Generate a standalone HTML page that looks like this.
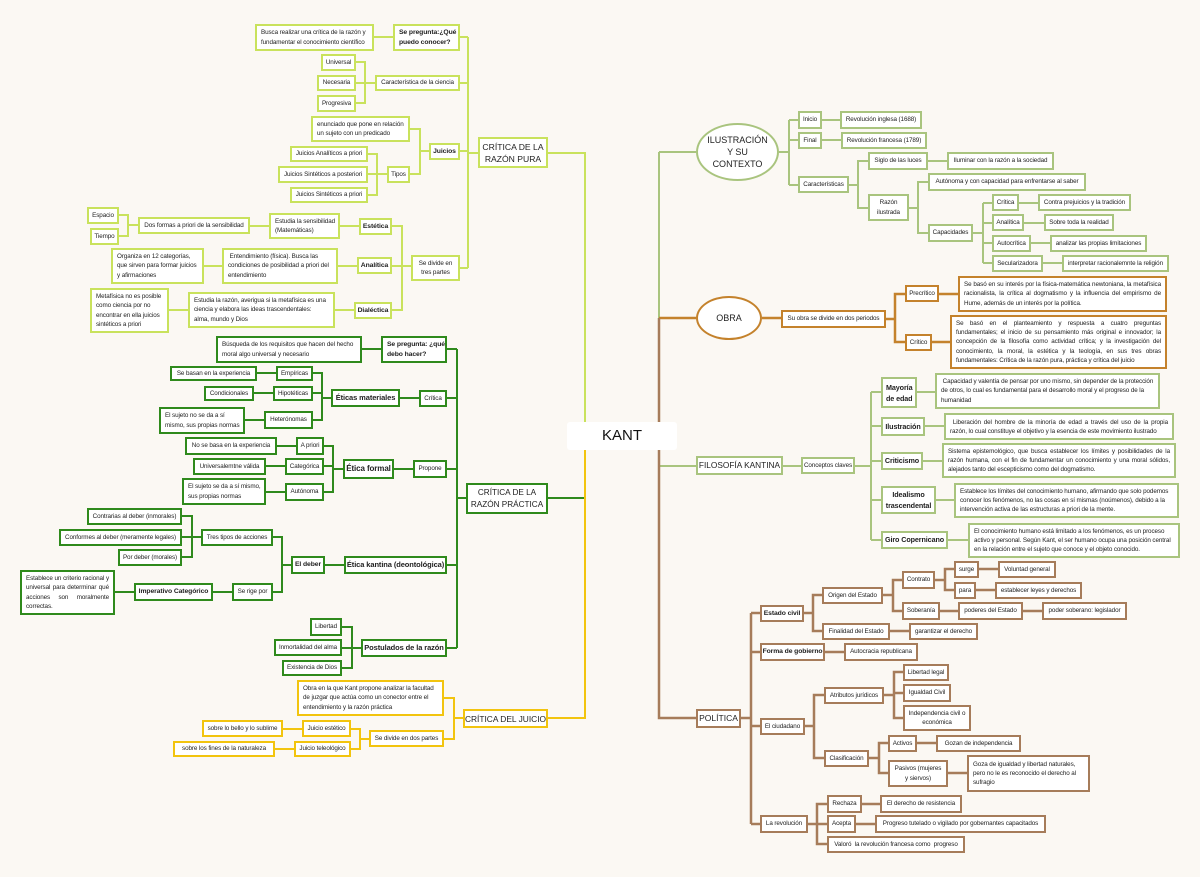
<!DOCTYPE html>
<html><head><meta charset="utf-8"><style>
body{margin:0;background:#fbf8f3;}
#c{position:relative;width:1200px;height:877px;overflow:hidden;background:#fbf8f3;font-family:"Liberation Sans",sans-serif;}
svg{position:absolute;left:0;top:0}
.b{position:absolute;box-sizing:border-box;border:2px solid;background:#fff;display:flex;align-items:center;justify-content:center;text-align:center;font-size:6.3px;letter-spacing:-0.1px;line-height:9.3px;padding:1px 2px;color:#222;white-space:nowrap;}
.l{justify-content:flex-start;text-align:left;padding:1px 4px;white-space:normal}
.n{white-space:nowrap}
.w{white-space:normal}
.l>span{width:100%}
.j>span{text-align:justify;text-align-last:left;width:100%}
.B{font-weight:bold;font-size:6.8px}
.T{font-size:8.6px;line-height:12px;border-width:2.5px;white-space:normal;letter-spacing:0}
.g1{border-color:#c9e25c}.g2{border-color:#2f8a1c}.y{border-color:#f2c40e}.s{border-color:#a9c47e}.o{border-color:#c4822c}.br{border-color:#a67c5a}
.e{border-radius:50%;font-size:9px;line-height:12px;background:#fff;letter-spacing:0}
</style></head><body><div id="c">
<svg width="1200" height="877" fill="none" stroke-linejoin="miter">
<g stroke="#c9e25c" stroke-width="2">
<path d="M548 153H585V422"/><path d="M478 153H468M468 37V268M460 37H468M460 83H468M460 151H468M460 268H468"/>
<path d="M374 37H393"/><path d="M356 62H365V103H356M356 83H375"/>
<path d="M410 129H420V174H410M420 151H429"/><path d="M368 154H377V195H368M368 174H387"/>
<path d="M119 215H128V236H119M128 225H138"/><path d="M250 226H269M340 226H359"/>
<path d="M204 266H222M338 266H357"/><path d="M169 310H188M335 310H354"/>
<path d="M392 226H402V310H392M392 266H411"/>
</g>
<g stroke="#2f8a1c" stroke-width="2">
<path d="M548 498H585"/><path d="M466 498H457M457 349V648M447 349H457M447 398H457M447 469H457M447 565H457M447 648H457"/>
<path d="M362 349H381"/><path d="M257 373H276M254 393H273M245 420H264"/>
<path d="M313 373H322V420H313M313 393H322M322 398H331M400 398H419"/>
<path d="M277 446H296M266 466H285M266 492H285"/>
<path d="M324 446H333V492H324M324 466H333M333 469H343M394 469H413"/>
<path d="M182 516H192V557H182M182 537H201"/><path d="M273 537H282V592H273M282 565H291M325 565H344"/>
<path d="M115 592H134M213 592H232"/><path d="M342 627H352V668H342M342 648H361"/>
</g>
<g stroke="#f2c40e" stroke-width="2">
<path d="M548 718H585V450"/><path d="M463 718H454M444 698H454V739H444"/>
<path d="M351 729H360V749H351M360 739H369"/><path d="M283 729H302M275 749H294"/>
</g>
<g stroke="#a9c47e" stroke-width="2">
<path d="M659 152V318M659 152H696M659 466H696"/>
<path d="M779 152H789M789 120V185M789 120H798M789 140H798M789 185H798"/>
<path d="M822 120H840M822 140H841"/>
<path d="M849 185H858V161H868M858 185V208H868M928 161H947"/>
<path d="M909 208H918V182H928M918 208V233H928"/>
<path d="M973 233H983M983 203V263M983 203H992M983 223H992M983 243H992M983 263H992"/>
<path d="M1019 203H1038M1024 223H1044M1031 243H1050M1043 263H1062"/>
<path d="M783 466H801M855 466H871M871 392V540M871 392H881M871 426H881M871 461H881M871 500H881M871 540H881"/>
<path d="M917 392H935M925 426H944M923 461H942M936 500H954M948 540H968"/>
</g>
<g stroke="#c4822c" stroke-width="2.5">
<path d="M659 318H696M762 318H781M886 319H895V294H905M895 319V342H905M939 294H958M932 342H950"/>
</g>
<g stroke="#a67c5a" stroke-width="2.5">
<path d="M659 318V718H696"/>
<path d="M741 718H751M751 613V824M751 613H760M751 652H760M751 726H760M751 824H760"/>
<path d="M804 613H813V595H822M813 613V631H822"/>
<path d="M883 595H893V580H902M893 595V611H902M935 580H945V569H954M945 580V590H954"/>
<path d="M979 569H998M976 590H995M940 611H958M1023 611H1042M890 631H909M825 652H844"/>
<path d="M805 726H814V695H824M814 726V758H824M884 695H894V672H903M894 693H903M894 695V718H903"/>
<path d="M869 758H879V743H888M879 758V773H888M917 743H936M948 773H967"/>
<path d="M808 824H817V804H827M817 824H827M817 824V844H827M862 804H880M856 824H875"/>
</g>
</svg>

<div class="b" style="left:567px;top:422px;width:110px;height:28px;border:none;border-radius:3px;font-size:15px;color:#111;letter-spacing:0">KANT</div>

<!-- CRP -->
<div class="b g1 T" style="left:478px;top:137px;width:70px;height:31px">CRÍTICA DE LA<br>RAZÓN PURA</div>
<div class="b g1 l n" style="left:255px;top:24px;width:119px;height:27px"><span>Busca realizar una crítica de la razón y<br>fundamentar el conocimiento científico</span></div>
<div class="b g1 l B n" style="left:393px;top:24px;width:67px;height:27px"><span>Se pregunta:¿Qué<br>puedo conocer?</span></div>
<div class="b g1" style="left:321px;top:54px;width:35px;height:17px">Universal</div>
<div class="b g1" style="left:317px;top:75px;width:39px;height:16px">Necesaria</div>
<div class="b g1" style="left:317px;top:95px;width:39px;height:17px">Progresiva</div>
<div class="b g1" style="left:375px;top:75px;width:85px;height:16px">Característica de la ciencia</div>
<div class="b g1 l n" style="left:311px;top:116px;width:99px;height:26px"><span>enunciado que pone en relación<br>un sujeto con un predicado</span></div>
<div class="b g1 B" style="left:429px;top:143px;width:31px;height:17px">Juicios</div>
<div class="b g1" style="left:290px;top:146px;width:78px;height:16px">Juicios Analíticos a priori</div>
<div class="b g1" style="left:278px;top:166px;width:90px;height:17px">Juicios Sintéticos a posteriori</div>
<div class="b g1" style="left:290px;top:187px;width:78px;height:16px">Juicios Sintéticos a priori</div>
<div class="b g1" style="left:387px;top:166px;width:23px;height:17px">Tipos</div>
<div class="b g1" style="left:87px;top:207px;width:32px;height:17px">Espacio</div>
<div class="b g1" style="left:90px;top:228px;width:29px;height:17px">Tiempo</div>
<div class="b g1" style="left:138px;top:217px;width:112px;height:17px">Dos formas a priori de la sensibilidad</div>
<div class="b g1 l n" style="left:269px;top:213px;width:71px;height:26px"><span>Estudia la sensibilidad<br>(Matemáticas)</span></div>
<div class="b g1 B" style="left:359px;top:218px;width:33px;height:17px">Estética</div>
<div class="b g1 l n" style="left:111px;top:248px;width:93px;height:36px"><span>Organiza en 12 categorías,<br>que sirven para formar juicios<br>y afirmaciones</span></div>
<div class="b g1 l n" style="left:222px;top:248px;width:116px;height:36px"><span>&nbsp;Entendimiento (física). Busca las<br>condiciones de posibilidad a priori del<br>entendimiento</span></div>
<div class="b g1 B" style="left:357px;top:257px;width:35px;height:17px">Analítica</div>
<div class="b g1 w" style="left:411px;top:255px;width:49px;height:26px">Se divide en<br>tres partes</div>
<div class="b g1 l n" style="left:90px;top:288px;width:79px;height:45px"><span>Metafísica no es posible<br>como ciencia por no<br>encontrar en ella juicios<br>sintéticos a priori</span></div>
<div class="b g1 l n" style="left:188px;top:292px;width:147px;height:36px"><span>Estudia la razón, averigua si la metafísica es una<br>ciencia y elabora las ideas trascendentales:<br>alma, mundo y Dios</span></div>
<div class="b g1 B" style="left:354px;top:302px;width:38px;height:17px">Dialéctica</div>

<!-- CRPr -->
<div class="b g2 T" style="left:466px;top:483px;width:82px;height:31px;white-space:nowrap;font-size:8.2px">CRÍTICA DE LA<br>RAZÓN PRÁCTICA</div>
<div class="b g2 l n" style="left:216px;top:336px;width:146px;height:27px"><span>Búsqueda de los requisitos que hacen del hecho<br>moral algo universal y necesario</span></div>
<div class="b g2 l B n" style="left:381px;top:336px;width:66px;height:27px"><span>Se pregunta: ¿qué<br>debo hacer?</span></div>
<div class="b g2" style="left:170px;top:366px;width:87px;height:15px">Se basan en la experiencia</div>
<div class="b g2" style="left:276px;top:366px;width:37px;height:15px">Empíricas</div>
<div class="b g2" style="left:204px;top:386px;width:50px;height:15px">Condicionales</div>
<div class="b g2" style="left:273px;top:386px;width:40px;height:15px">Hipotéticas</div>
<div class="b g2 l n" style="left:159px;top:407px;width:86px;height:27px"><span>El sujeto no se da a sí<br>mismo, sus propias normas</span></div>
<div class="b g2" style="left:264px;top:411px;width:49px;height:18px">Heterónomas</div>
<div class="b g2 B" style="left:331px;top:389px;width:69px;height:18px;font-size:7.5px">Éticas materiales</div>
<div class="b g2" style="left:419px;top:390px;width:28px;height:17px">Crítica</div>
<div class="b g2" style="left:185px;top:437px;width:92px;height:18px">No se basa en la experiencia</div>
<div class="b g2" style="left:296px;top:437px;width:28px;height:18px">A priori</div>
<div class="b g2" style="left:193px;top:458px;width:73px;height:17px">Universalemtne válida</div>
<div class="b g2" style="left:285px;top:458px;width:39px;height:17px">Categórica</div>
<div class="b g2 l n" style="left:182px;top:478px;width:84px;height:27px"><span>El sujeto se da a sí mismo,<br>sus propias normas</span></div>
<div class="b g2" style="left:285px;top:483px;width:39px;height:18px">Autónoma</div>
<div class="b g2 B" style="left:343px;top:459px;width:51px;height:20px;font-size:8px">Ética formal</div>
<div class="b g2" style="left:413px;top:460px;width:34px;height:18px">Propone</div>
<div class="b g2" style="left:87px;top:508px;width:95px;height:17px">Contrarias al deber (inmorales)</div>
<div class="b g2" style="left:59px;top:529px;width:123px;height:17px">Conformes al deber (meramente legales)</div>
<div class="b g2" style="left:118px;top:549px;width:64px;height:17px">Por deber (morales)</div>
<div class="b g2" style="left:201px;top:529px;width:72px;height:17px">Tres tipos de acciones</div>
<div class="b g2 B" style="left:291px;top:556px;width:34px;height:18px">El deber</div>
<div class="b g2 B" style="left:344px;top:556px;width:103px;height:18px;font-size:7.5px">Ética kantina (deontológica)</div>
<div class="b g2 l j" style="left:20px;top:570px;width:95px;height:45px"><span>Establece un criterio racional y universal para determinar qué acciones son moralmente correctas.</span></div>
<div class="b g2 B" style="left:134px;top:583px;width:79px;height:18px">Imperativo Categórico</div>
<div class="b g2" style="left:232px;top:583px;width:41px;height:18px">Se rige por</div>
<div class="b g2" style="left:310px;top:618px;width:32px;height:18px">Libertad</div>
<div class="b g2" style="left:274px;top:639px;width:68px;height:17px">Inmortalidad del alma</div>
<div class="b g2" style="left:282px;top:660px;width:60px;height:16px">Existencia de Dios</div>
<div class="b g2 B" style="left:361px;top:639px;width:86px;height:18px;font-size:7.5px">Postulados de la razón</div>

<!-- CRJ -->
<div class="b y T" style="left:463px;top:709px;width:85px;height:19px;font-size:8.4px;white-space:nowrap">CRÍTICA DEL JUICIO</div>
<div class="b y l n" style="left:297px;top:680px;width:147px;height:36px"><span>Obra en la que Kant propone analizar la facultad<br>de juzgar que actúa como un conector entre el<br>entendimiento y la razón práctica</span></div>
<div class="b y" style="left:369px;top:730px;width:75px;height:17px">Se divide en dos partes</div>
<div class="b y" style="left:302px;top:720px;width:49px;height:17px">Juicio estético</div>
<div class="b y" style="left:202px;top:720px;width:81px;height:17px">sobre lo bello y lo sublime</div>
<div class="b y" style="left:294px;top:741px;width:57px;height:16px">Juicio teleológico</div>
<div class="b y" style="left:173px;top:741px;width:102px;height:16px">sobre los fines de la naturaleza</div>

<!-- Ilustración -->
<div class="b s e" style="left:696px;top:123px;width:83px;height:58px">ILUSTRACIÓN<br>Y SU<br>CONTEXTO</div>
<div class="b s" style="left:798px;top:111px;width:24px;height:18px">Inicio</div>
<div class="b s" style="left:840px;top:111px;width:82px;height:18px">Revolución inglesa (1688)</div>
<div class="b s" style="left:798px;top:132px;width:24px;height:17px">Final</div>
<div class="b s" style="left:841px;top:132px;width:86px;height:17px">Revolución francesa (1789)</div>
<div class="b s" style="left:798px;top:176px;width:51px;height:17px">Características</div>
<div class="b s" style="left:868px;top:152px;width:60px;height:18px">Siglo de las luces</div>
<div class="b s" style="left:947px;top:152px;width:107px;height:18px">Iluminar con la razón a la sociedad</div>
<div class="b s w" style="left:868px;top:194px;width:41px;height:27px">Razón<br>ilustrada</div>
<div class="b s" style="left:928px;top:173px;width:158px;height:18px">Autónoma y con capacidad para enfrentarse al saber</div>
<div class="b s" style="left:928px;top:224px;width:45px;height:18px">Capacidades</div>
<div class="b s" style="left:992px;top:194px;width:27px;height:17px">Crítica</div>
<div class="b s" style="left:1038px;top:194px;width:93px;height:17px">Contra prejuicios y la tradición</div>
<div class="b s" style="left:992px;top:214px;width:32px;height:17px">Analítica</div>
<div class="b s" style="left:1044px;top:214px;width:70px;height:17px">Sobre toda la realidad</div>
<div class="b s" style="left:992px;top:235px;width:39px;height:17px">Autocrítica</div>
<div class="b s" style="left:1050px;top:235px;width:97px;height:17px">analizar las propias limitaciones</div>
<div class="b s" style="left:992px;top:255px;width:51px;height:17px">Secularizadora</div>
<div class="b s" style="left:1062px;top:255px;width:107px;height:17px">interpretar racionalemnte la religión</div>

<!-- Obra -->
<div class="b o e" style="left:696px;top:296px;width:66px;height:44px;border-width:2.5px">OBRA</div>
<div class="b o" style="left:781px;top:310px;width:105px;height:18px;border-width:2.5px">Su obra se divide en dos periodos</div>
<div class="b o" style="left:905px;top:285px;width:34px;height:17px;border-width:2.5px">Precrítico</div>
<div class="b o" style="left:905px;top:334px;width:27px;height:17px;border-width:2.5px">Crítico</div>
<div class="b o l j" style="left:958px;top:276px;width:209px;height:36px;border-width:2.5px"><span>Se basó en su interés por la física-matemática newtoniana, la metafísica racionalista, la crítica al dogmatismo y la influencia del empirismo de Hume, además de un interés por la política.</span></div>
<div class="b o l j" style="left:950px;top:315px;width:217px;height:54px;border-width:2.5px"><span>Se basó en el planteamiento y respuesta a cuatro preguntas fundamentales; el inicio de su pensamiento más original e innovador; la concepción de la filosofía como actividad crítica; y la investigación del conocimiento, la moral, la estética y la teología, en sus tres obras fundamentales: Crítica de la razón pura, práctica y crítica del juicio</span></div>

<!-- Filosofía -->
<div class="b s" style="left:696px;top:456px;width:87px;height:19px;font-size:8.3px;letter-spacing:0">FILOSOFÍA KANTINA</div>
<div class="b s" style="left:801px;top:457px;width:54px;height:17px">Conceptos claves</div>
<div class="b s l B n" style="left:881px;top:377px;width:36px;height:31px;font-size:7.2px;line-height:11px;padding:1px 3px"><span>Mayoría<br>de edad</span></div>
<div class="b s l" style="left:935px;top:373px;width:225px;height:36px"><span>&nbsp;Capacidad y valentía de pensar por uno mismo, sin depender de la protección de otros, lo cual es fundamental para el desarrollo moral y el progreso de la humanidad</span></div>
<div class="b s B" style="left:881px;top:417px;width:44px;height:19px;font-size:7.2px">Ilustración</div>
<div class="b s l j" style="left:944px;top:413px;width:230px;height:27px;align-items:flex-start;overflow:hidden;padding-top:3px"><span>&nbsp;Liberación del hombre de la minoría de edad a través del uso de la propia razón, lo cual constituye el objetivo y la esencia de este movimiento ilustrado</span></div>
<div class="b s B" style="left:881px;top:452px;width:42px;height:18px;font-size:7.2px">Criticismo</div>
<div class="b s l j" style="left:942px;top:443px;width:234px;height:35px"><span>Sistema epistemológico, que busca establecer los límites y posibilidades de la razón humana, con el fin de fundamentar un conocimiento y una moral sólidos, alejados tanto del escepticismo como del dogmatismo.</span></div>
<div class="b s B w" style="left:881px;top:486px;width:55px;height:28px;font-size:7.2px;line-height:11px">Idealismo<br>trascendental</div>
<div class="b s l" style="left:954px;top:483px;width:225px;height:35px"><span>Establece los límites del conocimiento humano, afirmando que solo podemos conocer los fenómenos, no las cosas en sí mismas (noúmenos), debido a la intervención activa de las estructuras a priori de la mente.</span></div>
<div class="b s B" style="left:881px;top:531px;width:67px;height:18px;font-size:7.2px">Giro Copernicano</div>
<div class="b s l" style="left:968px;top:523px;width:212px;height:35px"><span>El conocimiento humano está limitado a los fenómenos, es un proceso activo y personal. Según Kant, el ser humano ocupa una posición central en la relación entre el sujeto que conoce y el objeto conocido.</span></div>

<!-- Política -->
<div class="b br" style="left:696px;top:709px;width:45px;height:19px;font-size:8.5px;border-width:2.5px;letter-spacing:0">POLÍTICA</div>
<div class="b br B" style="left:760px;top:605px;width:44px;height:17px;border-width:2.5px">Estado civil</div>
<div class="b br" style="left:822px;top:587px;width:61px;height:17px;border-width:2.5px">Origen del Estado</div>
<div class="b br" style="left:902px;top:571px;width:33px;height:18px;border-width:2.5px">Contrato</div>
<div class="b br" style="left:954px;top:561px;width:25px;height:17px;border-width:2.5px">surge</div>
<div class="b br" style="left:998px;top:561px;width:58px;height:17px;border-width:2.5px">Voluntad general</div>
<div class="b br" style="left:954px;top:582px;width:22px;height:17px;border-width:2.5px">para</div>
<div class="b br" style="left:995px;top:582px;width:87px;height:17px;border-width:2.5px">establecer leyes y derechos</div>
<div class="b br" style="left:902px;top:602px;width:38px;height:18px;border-width:2.5px">Soberanía</div>
<div class="b br" style="left:958px;top:602px;width:65px;height:18px;border-width:2.5px">poderes del Estado</div>
<div class="b br" style="left:1042px;top:602px;width:85px;height:18px;border-width:2.5px">poder soberano: legislador</div>
<div class="b br" style="left:822px;top:623px;width:68px;height:17px;border-width:2.5px">Finalidad del Estado</div>
<div class="b br" style="left:909px;top:623px;width:69px;height:17px;border-width:2.5px">garantizar el derecho</div>
<div class="b br B" style="left:760px;top:643px;width:65px;height:18px;border-width:2.5px">Forma de gobierno</div>
<div class="b br" style="left:844px;top:643px;width:74px;height:18px;border-width:2.5px">Autocracia republicana</div>
<div class="b br" style="left:760px;top:718px;width:45px;height:17px;border-width:2.5px">El ciudadano</div>
<div class="b br" style="left:824px;top:687px;width:60px;height:17px;border-width:2.5px">Atributos jurídicos</div>
<div class="b br" style="left:903px;top:664px;width:46px;height:17px;border-width:2.5px">Libertad legal</div>
<div class="b br" style="left:903px;top:684px;width:48px;height:18px;border-width:2.5px">Igualdad Civil</div>
<div class="b br w" style="left:903px;top:705px;width:68px;height:26px;border-width:2.5px">Independencia civil o<br>económica</div>
<div class="b br" style="left:824px;top:750px;width:45px;height:17px;border-width:2.5px">Clasificación</div>
<div class="b br" style="left:888px;top:735px;width:29px;height:17px;border-width:2.5px">Activos</div>
<div class="b br" style="left:936px;top:735px;width:85px;height:17px;border-width:2.5px">Gozan de independencia</div>
<div class="b br w" style="left:888px;top:760px;width:60px;height:27px;border-width:2.5px">Pasivos (mujeres<br>y siervos)</div>
<div class="b br l n" style="left:967px;top:755px;width:123px;height:37px;border-width:2.5px"><span>Goza de igualdad y libertad naturales,<br>pero no le es reconocido el derecho al<br>sufragio</span></div>
<div class="b br" style="left:760px;top:815px;width:48px;height:18px;border-width:2.5px">La revolución</div>
<div class="b br" style="left:827px;top:795px;width:35px;height:18px;border-width:2.5px">Rechaza</div>
<div class="b br" style="left:880px;top:795px;width:82px;height:18px;border-width:2.5px">El derecho de resistencia</div>
<div class="b br" style="left:827px;top:815px;width:29px;height:18px;border-width:2.5px">Acepta</div>
<div class="b br" style="left:875px;top:815px;width:171px;height:18px;border-width:2.5px">Progreso tutelado o vigilado por gobernantes capacitados</div>
<div class="b br" style="left:827px;top:836px;width:138px;height:17px;border-width:2.5px">Valoró &nbsp;la revolución francesa como &nbsp;progreso</div>
</div></body></html>
